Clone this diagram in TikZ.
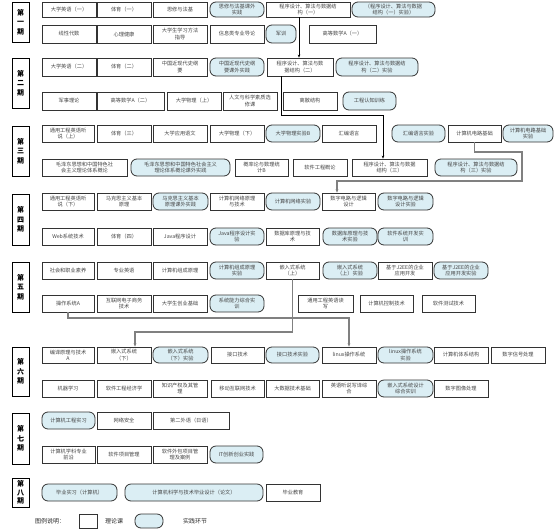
\documentclass[tikz,border=0pt]{standalone}
\usepackage{fontspec}
\setmainfont{Noto Sans CJK SC}
\usetikzlibrary{arrows.meta}
\definecolor{pfill}{RGB}{219,238,244}
\definecolor{txt}{RGB}{70,70,70}
\tikzset{
 base/.style={draw=black!80, line width=0.8pt, text=txt, font=\fontsize{5.2}{6.4}\selectfont, align=center, inner sep=0pt},
 theory/.style={base, fill=white},
 practice/.style={base, fill=pfill, rounded corners=6pt},
 period/.style={draw=black, line width=0.9pt, fill=white, font=\fontsize{7}{9.5}\selectfont\bfseries, align=center, inner sep=0pt},
 period8/.style={period, font=\fontsize{7}{8.6}\selectfont\bfseries},
 legtext/.style={font=\fontsize{6}{7}\selectfont, text=black!85, inner sep=0pt},
 link/.style={draw=black, line width=0.6pt, -{Stealth[length=3pt,width=2.6pt]}},
 glink/.style={draw=black!50, line width=1.1pt, -{Stealth[length=3.2pt,width=2.8pt]}},
}
\newcommand\cbox[7]{\node[#1, minimum width={#4pt-#3pt}, minimum height={#6pt-#5pt}] (#2) at ({(#3+#4)/2},{-(#5+#6)/2}) {#7};}
\begin{document}
\begin{tikzpicture}[x=1pt,y=1pt]
\useasboundingbox (0,0) rectangle (559,-530);
% period labels
\cbox{period}{t1}{12}{29}{2}{42}{第\\一\\期}
\cbox{period}{t2}{12}{29}{58}{108}{第\\二\\期}
\cbox{period}{t3}{12}{29}{126}{176}{第\\三\\期}
\cbox{period}{t4}{12}{29}{194}{245}{第\\四\\期}
\cbox{period}{t5}{12}{29}{262}{312}{第\\五\\期}
\cbox{period}{t6}{12}{29}{347}{396}{第\\六\\期}
\cbox{period}{t7}{12}{29}{413}{464}{第\\七\\期}
\cbox{period8}{t8}{12}{29}{478}{507}{第\\八\\期}
% row 1
\cbox{theory}{a1}{42}{96}{2}{17}{大学英语（一）}
\cbox{theory}{a2}{97}{151}{2}{17}{体育（一）}
\cbox{theory}{a3}{153}{207}{2}{17}{思修与法基}
\cbox{practice}{a4}{210}{264}{2}{17}{思修与法基课外\\实践}
\cbox{theory}{p1}{266}{350}{2}{17}{程序设计、算法与数据结\\构（一）}
\cbox{practice}{a6}{352}{435}{2}{17}{（程序设计、算法与数据\\结构（一）实验）}
% row 2
\cbox{theory}{b1}{42}{96}{25}{43}{线性代数}
\cbox{theory}{b2}{97}{151}{25}{43}{心理健康}
\cbox{theory}{b3}{153}{207}{25}{43}{大学生学习方法\\指导}
\cbox{theory}{b4}{210}{264}{25}{43}{信息类专业导论}
\cbox{practice}{b5}{266}{296}{25}{43}{军训}
\cbox{theory}{b6}{309}{376}{25}{43}{高等数学A（一）}
% row 3
\cbox{theory}{c1}{42}{96}{58}{76}{大学英语（二）}
\cbox{theory}{c2}{97}{151}{58}{76}{体育（二）}
\cbox{theory}{c3}{153}{207}{58}{76}{中国近现代史纲\\要}
\cbox{practice}{c4}{210}{264}{58}{76}{中国近现代史纲\\要课外实践}
\cbox{theory}{p2}{267}{333}{58}{76}{程序设计、算法与数\\据结构（二）}
\cbox{practice}{c6}{336}{418}{58}{76}{程序设计、算法与数据结\\构（二）实验}
% row 4
\cbox{theory}{d1}{42}{96}{92}{110}{军事理论}
\cbox{theory}{d2}{97}{164}{92}{110}{高等数学A（二）}
\cbox{theory}{d3}{167}{221}{92}{110}{大学物理（上）}
\cbox{theory}{d4}{223}{277}{92}{110}{人文与科学素质选\\修课}
\cbox{theory}{d5}{283}{337}{92}{110}{离散结构}
\cbox{practice}{d6}{343}{396}{92}{110}{工程认知训练}
% row 5
\cbox{theory}{e1}{42}{94}{125}{142}{通用工程英语听\\说（上）}
\cbox{theory}{e2}{97}{151}{125}{142}{体育（三）}
\cbox{theory}{e3}{153}{207}{125}{142}{大学应用语文}
\cbox{theory}{e4}{210}{264}{125}{142}{大学物理（下）}
\cbox{practice}{e5}{266}{320}{125}{142}{大学物理实验B}
\cbox{theory}{e6}{322}{376}{125}{142}{汇编语言}
\cbox{practice}{e7}{392}{445}{125}{142}{汇编语言实验}
\cbox{theory}{ce}{448}{501}{125}{142}{计算机电路基础}
\cbox{practice}{e9}{503}{553}{125}{142}{计算机电路基础\\实验}
% row 6
\cbox{theory}{f1}{42}{127}{159}{176}{毛泽东思想和中国特色社\\会主义理论体系概论}
\cbox{practice}{f2}{131}{230}{159}{176}{毛泽东思想和中国特色社会主义\\理论体系概论课外实践}
\cbox{theory}{f3}{235}{288}{159}{176}{概率论与数理统\\计B}
\cbox{theory}{f4}{293}{347}{159}{176}{软件工程概论}
\cbox{theory}{p3}{352}{427}{159}{176}{程序设计、算法与数据\\结构（三）}
\cbox{practice}{f6}{435}{517}{159}{176}{程序设计、算法与数据结\\构（三）实验}
% row 7
\cbox{theory}{g1}{42}{94}{193}{210}{通用工程英语听\\说（下）}
\cbox{theory}{g2}{97}{151}{193}{210}{马克思主义基本\\原理}
\cbox{practice}{g3}{153}{208}{193}{210}{马克思主义基本\\原理课外实践}
\cbox{theory}{g4}{210}{264}{193}{210}{计算机网络原理\\与技术}
\cbox{practice}{g5}{266}{320}{193}{210}{计算机网络实验}
\cbox{theory}{dl}{322}{375}{193}{210}{数字电路与逻辑\\设计}
\cbox{practice}{g7}{378}{433}{193}{210}{数字电路与逻辑\\设计实验}
% row 8
\cbox{theory}{h1}{42}{94}{228}{245}{Web系统技术}
\cbox{theory}{h2}{97}{151}{228}{245}{体育（四）}
\cbox{theory}{h3}{153}{207}{228}{245}{Java程序设计}
\cbox{practice}{h4}{210}{264}{228}{245}{Java程序设计实\\验}
\cbox{theory}{h5}{266}{319}{228}{245}{数据库原理与技\\术}
\cbox{practice}{h6}{323}{377}{228}{245}{数据库原理与技\\术实验}
\cbox{practice}{h7}{378}{433}{228}{245}{软件系统开发实\\训}
% row 9
\cbox{theory}{i1}{42}{94}{262}{279}{社会和职业素养}
\cbox{theory}{i2}{97}{151}{262}{279}{专业英语}
\cbox{theory}{i3}{153}{207}{262}{279}{计算机组成原理}
\cbox{practice}{i4}{210}{264}{262}{279}{计算机组成原理\\实验}
\cbox{theory}{eu}{266}{319}{262}{279}{嵌入式系统\\（上）}
\cbox{practice}{i6}{323}{377}{262}{279}{嵌入式系统\\（上）实验}
\cbox{theory}{i7}{378}{432}{262}{279}{基于J2EE的企业\\应用开发}
\cbox{practice}{i8}{434}{488}{262}{279}{基于J2EE的企业\\应用开发实验}
% row 10
\cbox{theory}{os}{42}{94}{295}{312}{操作系统A}
\cbox{theory}{j2}{97}{151}{295}{312}{互联网电子商务\\技术}
\cbox{theory}{j3}{153}{207}{295}{312}{大学生创业基础}
\cbox{practice}{j4}{210}{264}{295}{312}{系统能力综合实\\训}
\cbox{theory}{j5}{298}{353}{295}{312}{通用工程英语读\\写}
\cbox{theory}{j6}{360}{413}{295}{312}{计算机控制技术}
\cbox{theory}{j7}{422}{475}{295}{312}{软件测试技术}
% row 11
\cbox{theory}{k1}{42}{94}{347}{363}{编译原理与技术\\A}
\cbox{theory}{ed}{97}{151}{347}{363}{嵌入式系统\\（下）}
\cbox{practice}{k3}{153}{208}{347}{363}{嵌入式系统\\（下）实验}
\cbox{theory}{k4}{211}{264}{347}{363}{接口技术}
\cbox{practice}{k5}{266}{319}{347}{363}{接口技术实验}
\cbox{theory}{lx}{322}{376}{347}{363}{linux操作系统}
\cbox{practice}{k7}{378}{433}{347}{363}{linux操作系统\\实验}
\cbox{theory}{k8}{434}{488}{347}{363}{计算机体系结构}
\cbox{theory}{k9}{491}{545}{347}{363}{数字信号处理}
% row 12
\cbox{theory}{l1}{42}{94}{380}{397}{机器学习}
\cbox{theory}{l2}{97}{151}{380}{397}{软件工程经济学}
\cbox{theory}{l3}{153}{207}{380}{397}{知识产权及其管\\理}
\cbox{theory}{l4}{211}{264}{380}{397}{移动互联网技术}
\cbox{theory}{l5}{266}{319}{380}{397}{大数据技术基础}
\cbox{theory}{l6}{322}{376}{380}{397}{英语听说写译综\\合}
\cbox{practice}{l7}{378}{433}{380}{397}{嵌入式系统设计\\综合实训}
\cbox{theory}{l8}{434}{488}{380}{397}{数字图像处理}
% row 13
\cbox{practice}{m1}{42}{95}{412}{429}{计算机工程实习}
\cbox{theory}{m2}{97}{151}{412}{429}{网络安全}
\cbox{theory}{m3}{153}{229}{412}{429}{第二外语（日语）}
% row 14
\cbox{theory}{n1}{42}{95}{446}{463}{计算机学科专业\\前沿}
\cbox{theory}{n2}{97}{151}{446}{463}{软件项目管理}
\cbox{theory}{n3}{153}{207}{446}{463}{软件外包项目管\\理及案例}
\cbox{practice}{n4}{210}{263}{446}{463}{IT创新创业实践}
% row 15
\cbox{practice}{o1}{42}{117}{484}{501}{毕业实习（计算机）}
\cbox{practice}{o2}{125}{263}{484}{501}{计算机科学与技术毕业设计（论文）}
\cbox{theory}{o3}{266}{320}{484}{501}{毕业教育}
% legend
\node[legtext, anchor=west] (lgt) at (35,-521) {图例说明：};
\cbox{theory}{lg1}{79}{97}{514}{528}{}
\node[legtext, anchor=west] (lgt1) at (105,-521) {理论课};
\cbox{practice}{lg2}{135}{163}{514}{528}{}
\node[legtext, anchor=west] (lgt2) at (183,-521) {实践环节};
% connectors
\coordinate (x299) at (299,0);
\coordinate (x281) at (281,0);
\coordinate (q1) at (383,-115);
\coordinate (r1) at (522,-152);
\coordinate (r2) at (337,-181);
\coordinate (s1) at (349,-318);
\coordinate (s2) at (135,-332);
\coordinate (jn) at (292.5,-318);
\draw[link] (p1.south -| x299) -- (p2.north -| x299);
\draw[link] (p2.south -| x281) |- (q1) -- (p3.north -| q1);
\draw[glink] (ce.south) |- (r1) |- (r2) -- (dl.north -| r2);
\draw[glink] (os.south) |- (s1) -- (lx.north -| s1);
\draw[glink] (eu.south) |- (s2) -- (ed.north -| s2);
\fill[black!50] (jn) circle (1.2pt);
\end{tikzpicture}
\end{document}
